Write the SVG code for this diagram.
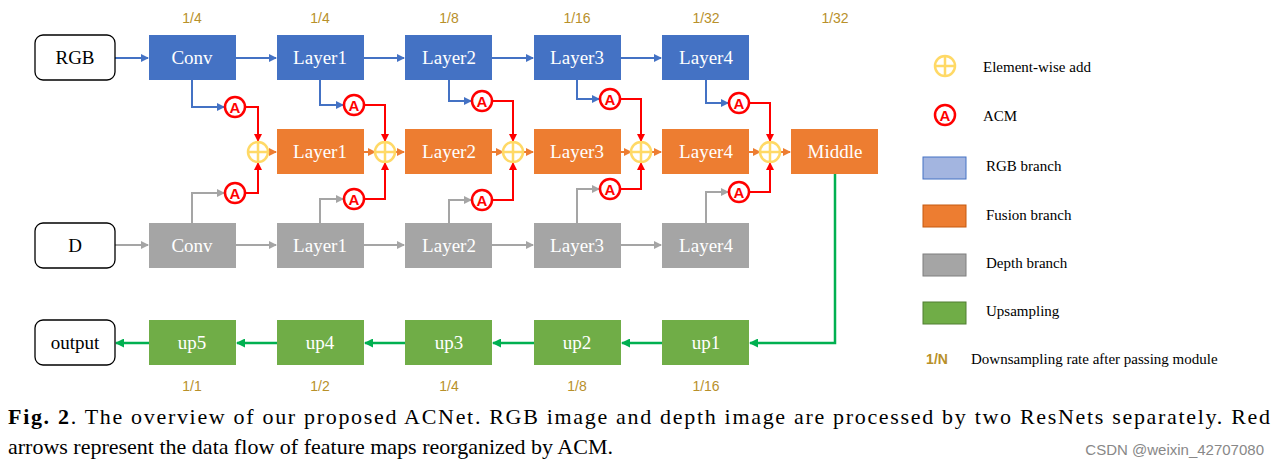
<svg xmlns="http://www.w3.org/2000/svg" width="1279" height="467" viewBox="0 0 1279 467">
<style>
.w{fill:#fff;font-family:"Liberation Serif",serif;font-size:19px;text-anchor:middle}
.k{fill:#000;font-family:"Liberation Serif",serif;font-size:19px;text-anchor:middle}
.r{fill:#b8902a;font-family:"Liberation Sans",sans-serif;font-size:14px;text-anchor:middle}
.lg{fill:#000;font-family:"Liberation Serif",serif;font-size:15px}
.cap{fill:#000;font-family:"Liberation Serif",serif;font-size:22px}
.b{fill:#4472c4}.o{fill:#ed7d31}.g{fill:#a5a5a5}.gr{fill:#70ad47}
.in{fill:#fff;stroke:#000;stroke-width:1.3}
.lb{stroke:#4472c4;stroke-width:2;fill:none;marker-end:url(#mb)}
.lo{stroke:#ed7d31;stroke-width:2;fill:none;marker-end:url(#mo)}
.lgy{stroke:#a5a5a5;stroke-width:2;fill:none;marker-end:url(#mg)}
.lr{stroke:#ff0000;stroke-width:2;fill:none;marker-end:url(#mr)}
.lgr{stroke:#00b050;stroke-width:2.5;fill:none}
.acm{fill:#fff;stroke:#ff0000;stroke-width:2.5}
.acmt{fill:#ff0000;font-family:"Liberation Sans",sans-serif;font-weight:bold;font-size:15px;text-anchor:middle}
.add{fill:none;stroke:#ffd966;stroke-width:2.5}
</style>
<defs>
<marker id="mb" markerWidth="8" markerHeight="8" refX="7" refY="4" orient="auto" markerUnits="userSpaceOnUse"><path d="M0,0L8,4L0,8z" fill="#4472c4"/></marker>
<marker id="mo" markerWidth="8" markerHeight="8" refX="7" refY="4" orient="auto" markerUnits="userSpaceOnUse"><path d="M0,0L8,4L0,8z" fill="#ed7d31"/></marker>
<marker id="mg" markerWidth="8" markerHeight="8" refX="7" refY="4" orient="auto" markerUnits="userSpaceOnUse"><path d="M0,0L8,4L0,8z" fill="#a5a5a5"/></marker>
<marker id="mr" markerWidth="8" markerHeight="8" refX="7" refY="4" orient="auto" markerUnits="userSpaceOnUse"><path d="M0,0L8,4L0,8z" fill="#ff0000"/></marker>
<marker id="mgr" markerWidth="9" markerHeight="9" refX="8" refY="4.5" orient="auto" markerUnits="userSpaceOnUse"><path d="M0,0L9,4.5L0,9z" fill="#00b050"/></marker>
<g id="acmsym"><circle r="10" class="acm"/><text y="5.5" class="acmt">A</text></g>
<g id="addsym"><circle r="10" class="add"/><path d="M-10,0H10M0,-10V10" class="add"/></g>
</defs>
<rect width="1279" height="467" fill="#fff"/>

<g id="connectors">
<path class="lb" d="M115,58H148"/><path class="lb" d="M236,58H276"/><path class="lb" d="M364,58H404"/><path class="lb" d="M492,58H533"/><path class="lb" d="M621,58H661"/>
<path class="lgy" d="M115,245H148"/><path class="lgy" d="M236,245H276"/><path class="lgy" d="M364,245H404"/><path class="lgy" d="M492,245H533"/><path class="lgy" d="M621,245H661"/>
<path class="lo" d="M268,152H276"/><path class="lo" d="M364,152H375"/><path class="lo" d="M395,152H404"/><path class="lo" d="M492,152H503"/><path class="lo" d="M523,152H533"/><path class="lo" d="M621,152H631"/><path class="lo" d="M651,152H661"/><path class="lo" d="M749,152H760"/><path class="lo" d="M780,152H790"/>
<path class="lb" d="M192,80V107H224"/><path class="lb" d="M320,80V105H343"/><path class="lb" d="M449,80V101H471"/><path class="lb" d="M577,80V99H599"/><path class="lb" d="M706,80V103H728"/>
<path class="lgy" d="M192,223V193H224"/><path class="lgy" d="M320,223V199H343"/><path class="lgy" d="M449,223V200H471"/><path class="lgy" d="M577,223V189H599"/><path class="lgy" d="M706,223V192H728"/>
<path class="lr" d="M245,107H258V141"/><path class="lr" d="M364,105H385V141"/><path class="lr" d="M492,101H513V141"/><path class="lr" d="M620,99H641V141"/><path class="lr" d="M749,103H770V141"/>
<path class="lr" d="M245,193H258V163"/><path class="lr" d="M364,199H385V163"/><path class="lr" d="M492,200H513V163"/><path class="lr" d="M620,189H641V163"/><path class="lr" d="M749,192H770V163"/>
<path class="lgr" marker-end="url(#mgr)" d="M835,174V343H750"/>
<path class="lgr" marker-end="url(#mgr)" d="M662,343H622"/><path class="lgr" marker-end="url(#mgr)" d="M534,343H493"/><path class="lgr" marker-end="url(#mgr)" d="M405,343H365"/><path class="lgr" marker-end="url(#mgr)" d="M277,343H237"/><path class="lgr" marker-end="url(#mgr)" d="M149,343H116"/>
</g>

<g id="acms">
<use href="#acmsym" x="235" y="107"/><use href="#acmsym" x="354" y="105"/><use href="#acmsym" x="482" y="101"/><use href="#acmsym" x="610" y="99"/><use href="#acmsym" x="739" y="103"/>
<use href="#acmsym" x="235" y="193"/><use href="#acmsym" x="354" y="199"/><use href="#acmsym" x="482" y="200"/><use href="#acmsym" x="610" y="189"/><use href="#acmsym" x="739" y="192"/>
</g>
<g id="adds">
<use href="#addsym" x="258" y="152"/><use href="#addsym" x="385" y="152"/><use href="#addsym" x="513" y="152"/><use href="#addsym" x="641" y="152"/><use href="#addsym" x="770" y="152"/>
</g>

<g id="n-rgb"><rect class="in" x="35" y="35" width="80" height="45" rx="8"/><text class="k" x="75" y="64">RGB</text></g>
<g id="n-d"><rect class="in" x="35" y="223" width="80" height="45" rx="8"/><text class="k" x="75" y="252">D</text></g>
<g id="n-out"><rect class="in" x="35" y="320" width="80" height="45" rx="8"/><text class="k" x="75" y="349">output</text></g>

<g id="n-rconv"><rect class="b" x="149" y="35" width="87" height="45"/><text class="w" x="192" y="64">Conv</text></g>
<g id="n-rl1"><rect class="b" x="277" y="35" width="87" height="45"/><text class="w" x="320" y="64">Layer1</text></g>
<g id="n-rl2"><rect class="b" x="405" y="35" width="87" height="45"/><text class="w" x="449" y="64">Layer2</text></g>
<g id="n-rl3"><rect class="b" x="534" y="35" width="87" height="45"/><text class="w" x="577" y="64">Layer3</text></g>
<g id="n-rl4"><rect class="b" x="662" y="35" width="87" height="45"/><text class="w" x="706" y="64">Layer4</text></g>

<g id="n-fl1"><rect class="o" x="277" y="129" width="87" height="45"/><text class="w" x="320" y="158">Layer1</text></g>
<g id="n-fl2"><rect class="o" x="405" y="129" width="87" height="45"/><text class="w" x="449" y="158">Layer2</text></g>
<g id="n-fl3"><rect class="o" x="534" y="129" width="87" height="45"/><text class="w" x="577" y="158">Layer3</text></g>
<g id="n-fl4"><rect class="o" x="662" y="129" width="87" height="45"/><text class="w" x="706" y="158">Layer4</text></g>
<g id="n-mid"><rect class="o" x="791" y="129" width="87" height="45"/><text class="w" x="835" y="158">Middle</text></g>

<g id="n-dconv"><rect class="g" x="149" y="223" width="87" height="45"/><text class="w" x="192" y="252">Conv</text></g>
<g id="n-dl1"><rect class="g" x="277" y="223" width="87" height="45"/><text class="w" x="320" y="252">Layer1</text></g>
<g id="n-dl2"><rect class="g" x="405" y="223" width="87" height="45"/><text class="w" x="449" y="252">Layer2</text></g>
<g id="n-dl3"><rect class="g" x="534" y="223" width="87" height="45"/><text class="w" x="577" y="252">Layer3</text></g>
<g id="n-dl4"><rect class="g" x="662" y="223" width="87" height="45"/><text class="w" x="706" y="252">Layer4</text></g>

<g id="n-up5"><rect class="gr" x="149" y="320" width="87" height="45"/><text class="w" x="192" y="349">up5</text></g>
<g id="n-up4"><rect class="gr" x="277" y="320" width="87" height="45"/><text class="w" x="320" y="349">up4</text></g>
<g id="n-up3"><rect class="gr" x="405" y="320" width="87" height="45"/><text class="w" x="449" y="349">up3</text></g>
<g id="n-up2"><rect class="gr" x="534" y="320" width="87" height="45"/><text class="w" x="577" y="349">up2</text></g>
<g id="n-up1"><rect class="gr" x="662" y="320" width="87" height="45"/><text class="w" x="706" y="349">up1</text></g>

<g id="rates">
<text class="r" x="192" y="23">1/4</text><text class="r" x="320" y="23">1/4</text><text class="r" x="449" y="23">1/8</text><text class="r" x="577" y="23">1/16</text><text class="r" x="706" y="23">1/32</text><text class="r" x="835" y="23">1/32</text>
<text class="r" x="192" y="391">1/1</text><text class="r" x="320" y="391">1/2</text><text class="r" x="449" y="391">1/4</text><text class="r" x="577" y="391">1/8</text><text class="r" x="706" y="391">1/16</text>
</g>

<g id="legend">
<use href="#addsym" x="945" y="66"/><text class="lg" x="983" y="72">Element-wise add</text>
<use href="#acmsym" x="945" y="115"/><text class="lg" x="983" y="121">ACM</text>
<rect x="923" y="157" width="43" height="22" fill="#a3b5e0" stroke="#4472c4"/><text class="lg" x="986" y="171">RGB branch</text>
<rect x="923" y="205" width="43" height="22" class="o" stroke="#c55a11"/><text class="lg" x="986" y="220">Fusion branch</text>
<rect x="923" y="254" width="43" height="22" class="g" stroke="#7f7f7f"/><text class="lg" x="986" y="268">Depth branch</text>
<rect x="923" y="302" width="43" height="22" class="gr" stroke="#507e32"/><text class="lg" x="986" y="316">Upsampling</text>
<text class="r" x="937" y="364" font-weight="bold">1/N</text><text class="lg" x="971" y="364">Downsampling rate after passing module</text>
</g>

<g id="caption">
<text class="cap" x="8" y="424" textLength="1262" lengthAdjust="spacing"><tspan font-weight="bold">Fig. 2</tspan>. The overview of our proposed ACNet. RGB image and depth image are processed by two ResNets separately. Red</text>
<text class="cap" x="8" y="454">arrows represent the data flow of feature maps reorganized by ACM.</text>
<text x="1264" y="455" font-family="Liberation Sans,sans-serif" font-size="15" fill="#888" text-anchor="end">CSDN @weixin_42707080</text>
</g>
</svg>
